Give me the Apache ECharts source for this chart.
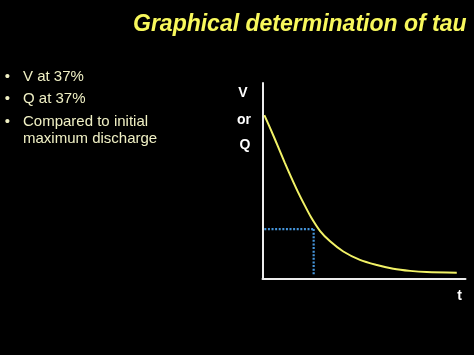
<!DOCTYPE html>
<html>
<head>
<meta charset="utf-8">
<script src="https://cdn.jsdelivr.net/npm/echarts@6/dist/echarts.min.js"></script>
<style>
html,body{margin:0;padding:0;background:#000;}
#chart{width:474px;height:355px;}
</style>
</head>
<body>
<div id="chart"></div>
<script>
// Data (arbitrary units: t 0..10, value 0..100)
const titleText = 'Graphical determination of tau';
const bullets = ['V at 37%', 'Q at 37%', 'Compared to initial'];
const bulletWrap = 'maximum discharge';
const yLabels = ['V', 'or', 'Q'];
const xLabel = 't';
const tValues = [0.09, 0.43, 0.76, 1.09, 1.42, 1.75, 2.08, 2.40, 2.83, 3.33, 3.98, 4.80, 5.63, 6.44, 7.27, 8.09, 9.57];
const qValues = [83.6, 75.6, 67.6, 59.4, 51.6, 44.2, 37.4, 31.2, 24.4, 19.0, 13.8, 9.5, 6.9, 5.0, 3.9, 3.3, 3.0];
const tauT = 2.52;
const tauQ = 25.3;
const hLineStartT = 0.09;
const vLineEndQ = 1.8;

const curve = tValues.map((t, i) => [t, qValues[i]]);
const hLine = [[hLineStartT, tauQ], [tauT, tauQ]];
const vLine = [[tauT, tauQ], [tauT, vLineEndQ]];

const chart = echarts.init(document.getElementById('chart'), null, {renderer: 'canvas'});
const font = 'Liberation Sans, Arial, sans-serif';
const bulletColor = '#f0f0c4';
const bulletY = [76.4, 99, 121.4];
const graphics = [
  {type: 'text', style: {x: 133, y: 25, text: titleText, fill: '#f8f85c', font: 'italic bold 23px ' + font, textVerticalAlign: 'middle'}}
];
bullets.forEach((b, i) => {
  graphics.push({type: 'text', style: {x: 7.3, y: bulletY[i], text: '•', fill: bulletColor, font: '15px ' + font, textAlign: 'center', textVerticalAlign: 'middle'}});
  graphics.push({type: 'text', style: {x: 23, y: bulletY[i], text: b, fill: bulletColor, font: '15px ' + font, textVerticalAlign: 'middle'}});
});
graphics.push({type: 'text', style: {x: 23, y: 139, text: bulletWrap, fill: bulletColor, font: '15px ' + font, textVerticalAlign: 'middle'}});
const yLabelPos = [[243, 93], [244, 120], [245, 145]];
yLabels.forEach((l, i) => {
  graphics.push({type: 'text', style: {x: yLabelPos[i][0], y: yLabelPos[i][1], text: l, fill: '#ffffff', font: 'bold 14px ' + font, textAlign: 'center', textVerticalAlign: 'middle'}});
});
graphics.push({type: 'text', style: {x: 459.5, y: 296, text: xLabel, fill: '#ffffff', font: 'bold 14px ' + font, textAlign: 'center', textVerticalAlign: 'middle'}});

chart.setOption({
  backgroundColor: '#000000',
  animation: false,
  grid: {left: 262.5, right: 8.5, top: 83, bottom: 76.5, containLabel: false},
  xAxis: {
    type: 'value', min: 0, max: 10,
    axisLine: {show: true, lineStyle: {color: '#ececec', width: 2}},
    axisTick: {show: false}, axisLabel: {show: false}, splitLine: {show: false}
  },
  yAxis: {
    type: 'value', min: 0, max: 100,
    axisLine: {show: true, lineStyle: {color: '#ececec', width: 2}},
    axisTick: {show: false}, axisLabel: {show: false}, splitLine: {show: false}
  },
  series: [
    {type: 'line', data: hLine, showSymbol: false, lineStyle: {color: '#4696dc', width: 2.2, type: [2, 1.6]}, z: 2},
    {type: 'line', data: vLine, showSymbol: false, lineStyle: {color: '#4696dc', width: 2.2, type: [2, 1.6]}, z: 2},
    {type: 'line', data: curve, smooth: 0.3, showSymbol: false, lineStyle: {color: '#f2f266', width: 2}, z: 3}
  ],
  graphic: graphics
});
</script>
</body>
</html>
